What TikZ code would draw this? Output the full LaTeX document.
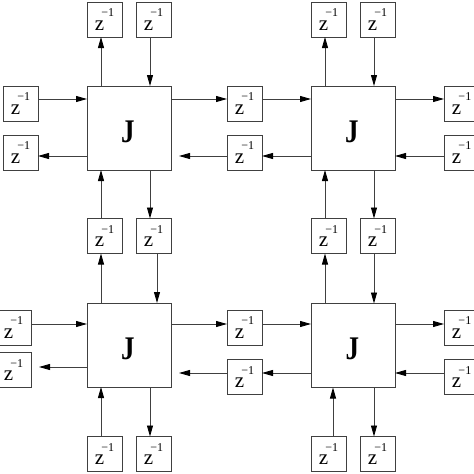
\documentclass[tikz,border=0pt]{standalone}
\usepackage{fontspec}
\setmainfont{Liberation Serif}
\usetikzlibrary{arrows.meta}
\newcommand{\zinv}{{\fontsize{21pt}{21pt}\selectfont z}\kern-2.6pt\raisebox{13.5pt}{\fontsize{12pt}{12pt}\selectfont −1}}
\newcommand{\jglyph}{\scalebox{0.82}[1]{J}}
\begin{document}
\begin{tikzpicture}[x=1pt,y=-1pt,
  line width=0.9pt,
  zbox/.style={draw=black!75, fill=white, minimum width=35pt, minimum height=35pt, inner sep=0pt, outer sep=0pt},
  jbox/.style={draw=black!75, fill=white, minimum width=84pt, minimum height=84pt, inner sep=0pt, outer sep=0pt},
  jlabel/.style={font=\fontsize{33pt}{33pt}\selectfont\bfseries, inner sep=0pt},
  arr/.style={draw=black!75, -{Triangle[length=11pt,width=6pt,color=black]}}]
\useasboundingbox (0,0) rectangle (474,474);
% J boxes
\node[jbox] (JA) at (129,128) {};
\node[jbox] (JB) at (353,128) {};
\node[jbox] (JC) at (129,345) {};
\node[jbox] (JD) at (353,345.5) {};
\node[jlabel] (JAl) at (128,131.5) {\jglyph};
\node[jlabel] (JBl) at (352,131.5) {\jglyph};
\node[jlabel] (JCl) at (128,348.5) {\jglyph};
\node[jlabel] (JDl) at (352.5,349) {\jglyph};
% top row
\node[zbox] (TA1) at (104.5,19.5) {\zinv};
\node[zbox] (TA2) at (153.5,19.5) {\zinv};
\node[zbox] (TB1) at (328.5,19.5) {\zinv};
\node[zbox] (TB2) at (377.5,19.5) {\zinv};
% left of JA, middle, right of JB
\node[zbox] (LA1) at (20.5,103.5) {\zinv};
\node[zbox] (LA2) at (20.5,152.5) {\zinv};
\node[zbox] (MA1) at (244.5,103.5) {\zinv};
\node[zbox] (MA2) at (244.5,152.5) {\zinv};
\node[zbox] (RB1) at (461.5,103.5) {\zinv};
\node[zbox] (RB2) at (461.5,152.5) {\zinv};
% middle vertical
\node[zbox] (VA1) at (104.5,236) {\zinv};
\node[zbox] (VA2) at (153.5,236) {\zinv};
\node[zbox] (VB1) at (328.5,236) {\zinv};
\node[zbox] (VB2) at (377.5,236) {\zinv};
% lower row sides
\node[zbox] (LC1) at (13.5,327.5) {\zinv};
\node[zbox] (LC2) at (13.5,370) {\zinv};
\node[zbox] (MC1) at (244.5,327.5) {\zinv};
\node[zbox] (MC2) at (244.5,377) {\zinv};
\node[zbox] (RD1) at (461.5,327.5) {\zinv};
\node[zbox] (RD2) at (461.5,377) {\zinv};
% bottom row
\node[zbox] (BC1) at (104.5,454) {\zinv};
\node[zbox] (BC2) at (153.5,454) {\zinv};
\node[zbox] (BD1) at (328.5,454) {\zinv};
\node[zbox] (BD2) at (377.5,454) {\zinv};
% ---- JA connectors
\draw[arr] (JA.north -| 101,0) -- (TA1.south -| 101,0);
\draw[arr] (TA2.south -| 150,0) -- (JA.north -| 150,0);
\draw[arr] (LA1.east |- 0,99) -- (JA.west |- 0,99);
\draw[arr] (JA.west |- 0,156) -- (LA2.east |- 0,156);
\draw[arr] (JA.east |- 0,99) -- (MA1.west |- 0,99);
\draw[arr] (MA2.west |- 0,156) -- (179,156);
\draw[arr] (VA1.north -| 101,0) -- (JA.south -| 101,0);
\draw[arr] (JA.south -| 150,0) -- (VA2.north -| 150,0);
% ---- JB connectors
\draw[arr] (JB.north -| 325,0) -- (TB1.south -| 325,0);
\draw[arr] (TB2.south -| 374,0) -- (JB.north -| 374,0);
\draw[arr] (MA1.east |- 0,99) -- (JB.west |- 0,99);
\draw[arr] (JB.west |- 0,156) -- (MA2.east |- 0,156);
\draw[arr] (JB.east |- 0,99) -- (RB1.west |- 0,99);
\draw[arr] (RB2.west |- 0,156) -- (JB.east |- 0,156);
\draw[arr] (VB1.north -| 325,0) -- (JB.south -| 325,0);
\draw[arr] (JB.south -| 374,0) -- (VB2.north -| 374,0);
% ---- JC connectors
\draw[arr] (JC.north -| 101,0) -- (VA1.south -| 101,0);
\draw[arr] (VA2.south -| 157,0) -- (JC.north -| 157,0);
\draw[arr] (LC1.east |- 0,324) -- (JC.west |- 0,324);
\draw[arr] (JC.west |- 0,367) -- (39,367);
\draw[arr] (JC.east |- 0,324) -- (MC1.west |- 0,324);
\draw[arr] (MC2.west |- 0,373) -- (179,373);
\draw[arr] (BC1.north -| 101,0) -- (JC.south -| 101,0);
\draw[arr] (JC.south -| 150,0) -- (BC2.north -| 150,0);
% ---- JD connectors
\draw[arr] (JD.north -| 325,0) -- (VB1.south -| 325,0);
\draw[arr] (VB2.south -| 374,0) -- (JD.north -| 374,0);
\draw[arr] (MC1.east |- 0,324) -- (JD.west |- 0,324);
\draw[arr] (JD.west |- 0,373) -- (MC2.east |- 0,373);
\draw[arr] (JD.east |- 0,324) -- (RD1.west |- 0,324);
\draw[arr] (RD2.west |- 0,373) -- (JD.east |- 0,373);
\draw[arr] (BD1.north -| 333,0) -- (JD.south -| 333,0);
\draw[arr] (JD.south -| 374,0) -- (BD2.north -| 374,0);
\end{tikzpicture}
\end{document}
